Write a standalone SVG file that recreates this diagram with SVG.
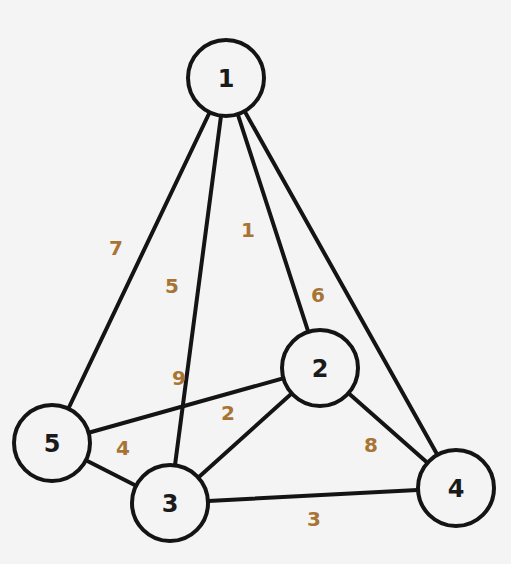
<svg xmlns="http://www.w3.org/2000/svg" width="511" height="564" viewBox="0 0 511 564">
<style>
.e{stroke:#141414;stroke-width:4;fill:none;stroke-linecap:round}
.n{fill:#f4f4f4;stroke:#141414;stroke-width:4}
.t{font-family:"DejaVu Sans","Noto Sans",sans-serif;font-size:24px;fill:#1a1a1a;text-anchor:middle;dominant-baseline:central;font-weight:600}
.w{font-family:"DejaVu Sans","Noto Sans",sans-serif;font-size:20px;fill:#a87436;text-anchor:middle;dominant-baseline:central;font-weight:600}
</style>
<rect width="511" height="564" fill="#f4f4f4"/>
<g id="edges">
<line class="e" x1="226" y1="78" x2="52" y2="443"/>
<line class="e" x1="226" y1="78" x2="170" y2="503"/>
<line class="e" x1="226" y1="78" x2="320" y2="368"/>
<line class="e" x1="226" y1="78" x2="456" y2="488"/>
<line class="e" x1="52" y1="443" x2="320" y2="368"/>
<line class="e" x1="52" y1="443" x2="170" y2="503"/>
<line class="e" x1="170" y1="503" x2="320" y2="368"/>
<line class="e" x1="320" y1="368" x2="456" y2="488"/>
<line class="e" x1="170" y1="503" x2="456" y2="488"/>
</g>
<g id="weights">
<text class="w" x="116" y="248">7</text>
<text class="w" x="172" y="286">5</text>
<text class="w" x="248" y="230">1</text>
<text class="w" x="318" y="295">6</text>
<text class="w" x="179" y="378">9</text>
<text class="w" x="228" y="413">2</text>
<text class="w" x="123" y="448">4</text>
<text class="w" x="371" y="445">8</text>
<text class="w" x="314" y="519">3</text>
</g>
<g id="node1"><circle class="n" cx="226" cy="78" r="38"/><text class="t" x="226" y="79">1</text></g>
<g id="node2"><circle class="n" cx="320" cy="368" r="38"/><text class="t" x="320" y="369">2</text></g>
<g id="node3"><circle class="n" cx="170" cy="503" r="38"/><text class="t" x="170" y="504">3</text></g>
<g id="node4"><circle class="n" cx="456" cy="488" r="38"/><text class="t" x="456" y="489">4</text></g>
<g id="node5"><circle class="n" cx="52" cy="443" r="38"/><text class="t" x="52" y="444">5</text></g>
</svg>
